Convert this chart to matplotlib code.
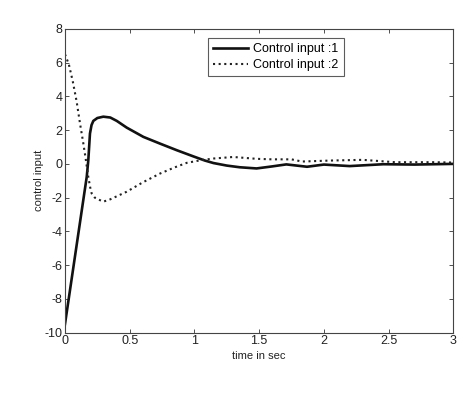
import matplotlib
matplotlib.use("Agg")
import matplotlib.pyplot as plt

# Control input 1 (solid)
t1 = [0, 0.05, 0.1, 0.15, 0.168, 0.18, 0.193, 0.205, 0.219, 0.25, 0.296, 0.35, 0.4,
      0.477, 0.606, 0.735, 0.864, 0.99, 1.08, 1.147, 1.25, 1.35, 1.48, 1.6, 1.71,
      1.87, 2.0, 2.2, 2.46, 2.7, 3.0]
u1 = [-9.5, -6.9, -4.3, -1.7, -0.77, 0.2, 1.8, 2.3, 2.55, 2.72, 2.8, 2.75, 2.55,
      2.15, 1.6, 1.2, 0.81, 0.45, 0.2, 0.05, -0.1, -0.2, -0.27, -0.15, -0.03,
      -0.17, -0.04, -0.13, -0.02, -0.04, 0.0]

# Control input 2 (dotted)
t2 = [0, 0.03, 0.06, 0.09, 0.116, 0.142, 0.16, 0.18, 0.195, 0.206, 0.23, 0.27,
      0.296, 0.35, 0.477, 0.6, 0.735, 0.85, 0.94, 1.05, 1.15, 1.3, 1.48, 1.6,
      1.75, 1.83, 2.06, 2.3, 2.55, 2.7, 2.85, 3.0]
u2 = [6.5, 5.9, 4.9, 3.7, 2.4, 1.2, 0.3, -0.77, -1.4, -1.75, -2.0, -2.15,
      -2.24, -2.1, -1.65, -1.1, -0.57, -0.2, 0.06, 0.22, 0.32, 0.41, 0.3, 0.27,
      0.27, 0.14, 0.2, 0.24, 0.1, 0.1, 0.1, 0.08]

labels = ["Control input :1", "Control input :2"]
xticks = [0, 0.5, 1, 1.5, 2, 2.5, 3]
xticklabels = ["0", "0.5", "1", "1.5", "2", "2.5", "3"]
yticks = [-10, -8, -6, -4, -2, 0, 2, 4, 6, 8]

plt.rcParams['font.family'] = ['Liberation Sans', 'DejaVu Sans']
plt.rcParams['axes.unicode_minus'] = False

fig = plt.figure(figsize=(4.74, 3.95), dpi=100)
ax = fig.add_axes([0.1371, 0.1582, 0.9563 - 0.1371, 0.9266 - 0.1582])

ax.plot(t1, u1, color='#111111', lw=1.9, label=labels[0])
ax.plot(t2, u2, color='#222222', lw=1.5, linestyle=(0, (1, 1.7)), label=labels[1])

ax.set_xlim(0, 3)
ax.set_ylim(-10, 8)
ax.set_xticks(xticks)
ax.set_xticklabels(xticklabels)
ax.set_yticks(yticks)
ax.tick_params(direction='in', top=True, right=True, length=3, width=0.6,
               labelsize=9, colors='#333333', labelcolor='#222222', pad=2)
for s in ax.spines.values():
    s.set_color('#444444')
    s.set_linewidth(0.8)

ax.set_xlabel("time in sec", fontsize=8, color='#222222', labelpad=3)
ax.set_ylabel("control input", fontsize=8, color='#222222', labelpad=0)

leg = ax.legend(loc='upper left', bbox_to_anchor=(0.369, 0.969), borderaxespad=0,
                fontsize=9, frameon=True, fancybox=False, handlelength=2.8,
                handletextpad=0.4, borderpad=0.4, labelspacing=0.3)
leg.get_frame().set_edgecolor('#333333')
leg.get_frame().set_linewidth(0.8)

fig.savefig("out.png", dpi=100)
